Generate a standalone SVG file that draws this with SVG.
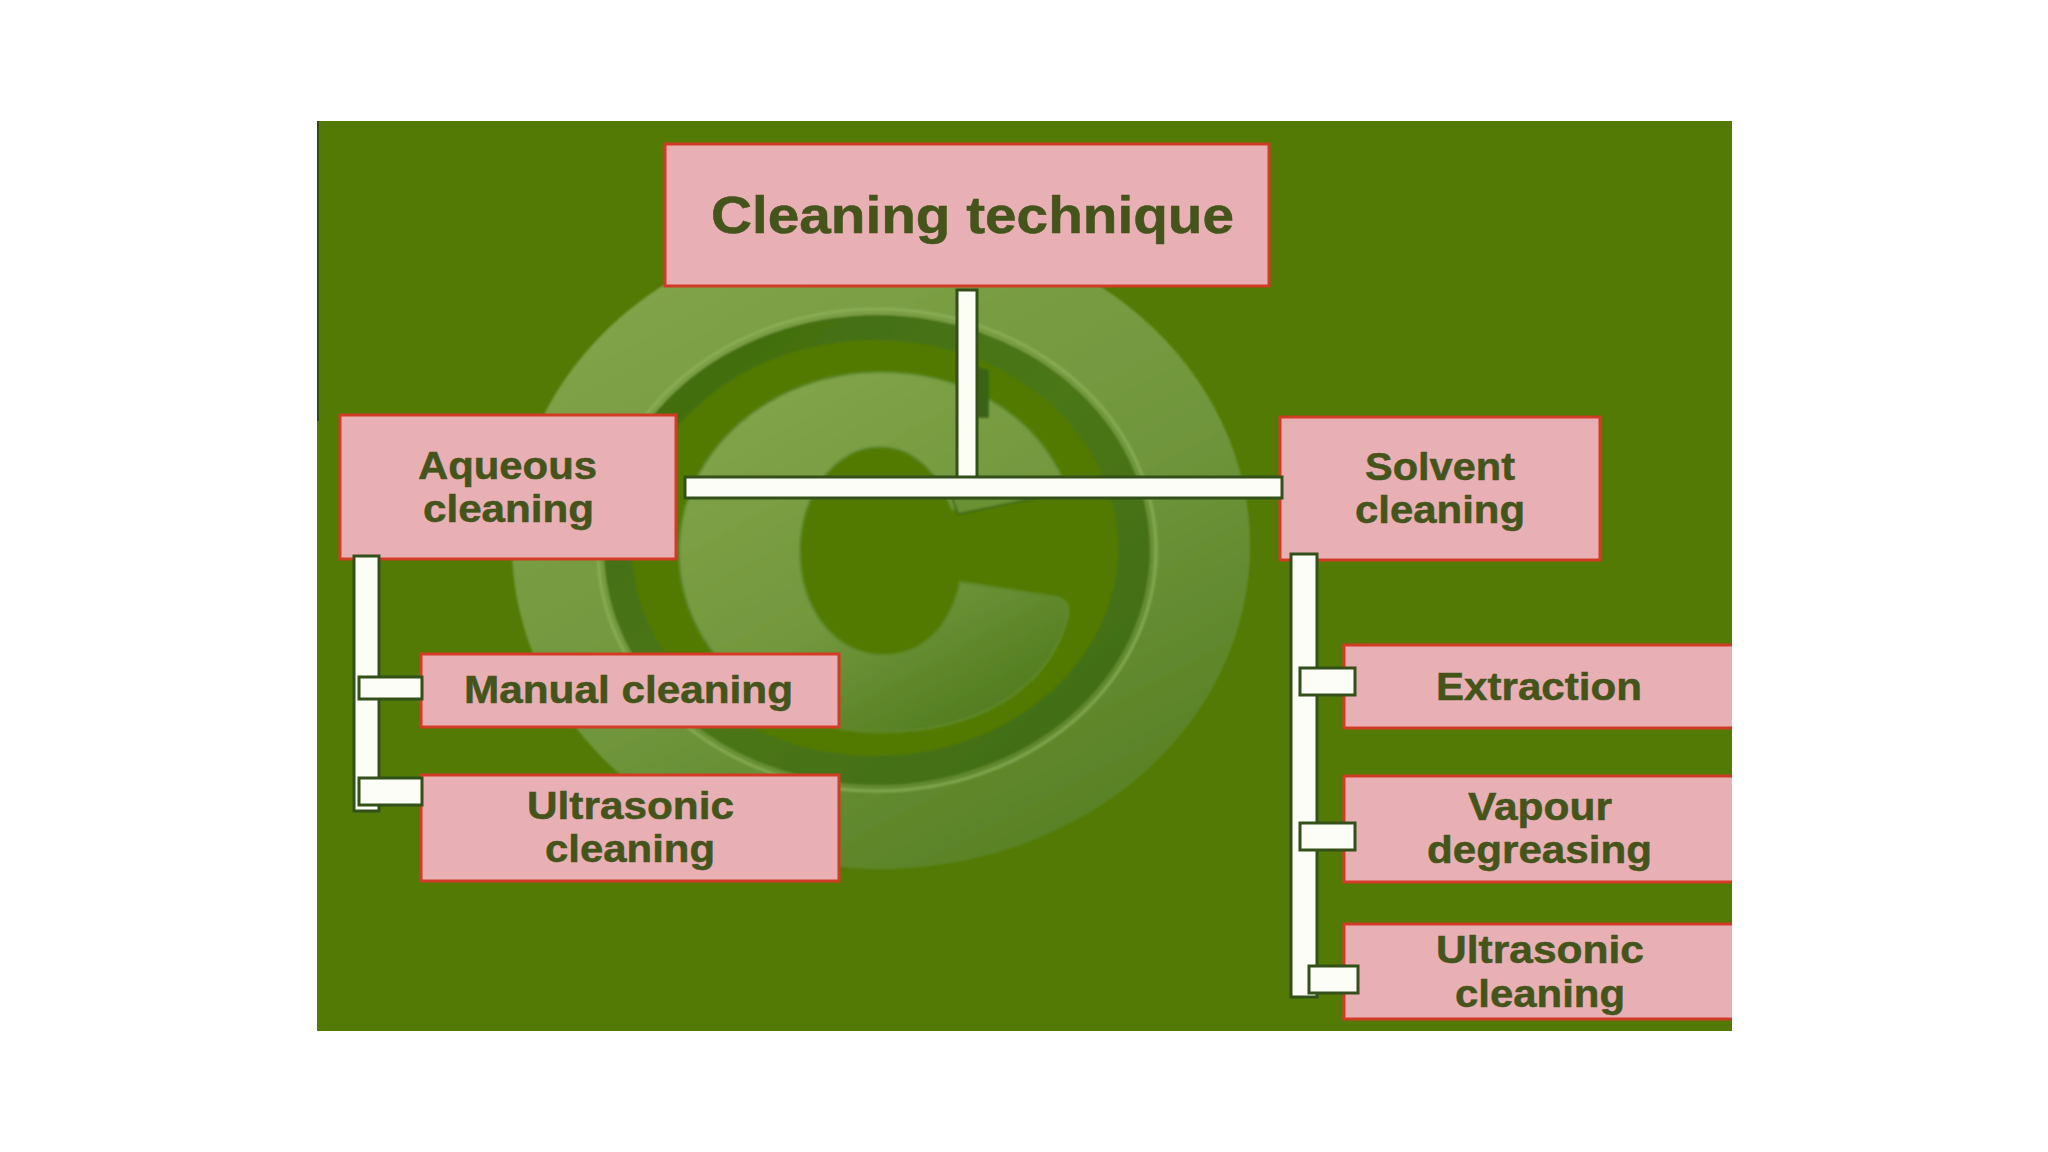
<svg xmlns="http://www.w3.org/2000/svg" width="2048" height="1152" viewBox="0 0 2048 1152">
<style>
.box{fill:#e8b0b5;stroke:#d23c26;stroke-width:3}
.bar{fill:#fcfdf6;stroke:#33501a;stroke-width:3}
text{font-family:"Liberation Sans",Arial,sans-serif;font-weight:700;fill:#44541a;stroke:#44541a;stroke-width:.5;font-size:38px}
.title{font-size:52px}
.hl{fill:none;stroke:#8fb35c;stroke-width:3;opacity:.7}
</style>
<defs>
<linearGradient id="ringG" x1="0.2" y1="0" x2="0.8" y2="1"><stop offset="0" stop-color="#83a44a"/><stop offset="0.55" stop-color="#70963c"/><stop offset="1" stop-color="#557e22"/></linearGradient>
<linearGradient id="cG" x1="0.2" y1="0" x2="0.8" y2="1"><stop offset="0" stop-color="#83a44a"/><stop offset="0.6" stop-color="#72973d"/><stop offset="1" stop-color="#4f7a1c"/></linearGradient>
<linearGradient id="darkG" x1="0" y1="0" x2="1" y2="1"><stop offset="0" stop-color="#3f6a10"/><stop offset="0.5" stop-color="#4b7714"/><stop offset="1" stop-color="#3f6a12"/></linearGradient>
<filter id="soft" x="-5%" y="-5%" width="110%" height="110%"><feGaussianBlur stdDeviation="1"/></filter>
<clipPath id="bgClip"><rect x="317" y="121" width="1415" height="910"/></clipPath>
</defs>
<rect width="2048" height="1152" fill="#fff"/>
<g id="background">
<rect x="317" y="121" width="1415" height="910" fill="#527a04"/>
<rect x="317" y="121" width="2" height="300" fill="#2f4a10"/>
<g filter="url(#soft)">
<ellipse cx="881" cy="546" rx="369" ry="323" fill="url(#ringG)"/>
<ellipse cx="877" cy="550" rx="279" ry="241" class="hl"/>
<ellipse cx="877" cy="550" rx="273" ry="235" fill="url(#darkG)"/>
<ellipse cx="875" cy="548" rx="243" ry="208" fill="#527a04"/>
<path d="M952 510L1062 477C1030 410 960 372 880 372C770 372 679 452 679 552C679 652 770 732 880 732C975 732 1050 690 1068 615Q1070 600 1055 597L960 582C950 630 920 655 885 655C835 655 800 610 800 550C800 495 835 447 880 447C915 447 940 475 952 510Z" fill="url(#cG)" stroke="#5f8a2a" stroke-width="2"/>
<path d="M977 367L989 370V418H977Z" fill="#3a6412"/>
<path d="M952 498L1037 498L958 514Z" fill="#6b9236" stroke="#3f6a12" stroke-width="2"/>
</g>
</g>
<g id="node-title"><rect class="box" x="665" y="144" width="604" height="142"/><text class="title" x="711" y="233" textLength="523" lengthAdjust="spacingAndGlyphs">Cleaning technique</text></g>
<g id="node-aqueous"><rect class="box" x="340" y="415" width="336" height="144"/><text x="418" y="479" textLength="179" lengthAdjust="spacingAndGlyphs">Aqueous</text><text x="423" y="522" textLength="171" lengthAdjust="spacingAndGlyphs">cleaning</text></g>
<g id="node-solvent"><rect class="box" x="1280" y="417" width="320" height="143"/><text x="1365" y="480" textLength="150" lengthAdjust="spacingAndGlyphs">Solvent</text><text x="1355" y="523" textLength="170" lengthAdjust="spacingAndGlyphs">cleaning</text></g>
<g id="node-manual"><rect class="box" x="421" y="654" width="418" height="73"/><text x="464" y="703" textLength="329" lengthAdjust="spacingAndGlyphs">Manual cleaning</text></g>
<g id="node-ultrasonic-left"><rect class="box" x="421" y="775" width="418" height="106"/><text x="527" y="819" textLength="207" lengthAdjust="spacingAndGlyphs">Ultrasonic</text><text x="545" y="862" textLength="170" lengthAdjust="spacingAndGlyphs">cleaning</text></g>
<g id="node-extraction" clip-path="url(#bgClip)"><rect class="box" x="1344" y="645" width="400" height="83"/><text x="1436" y="700" textLength="206" lengthAdjust="spacingAndGlyphs">Extraction</text></g>
<g id="node-vapour" clip-path="url(#bgClip)"><rect class="box" x="1344" y="776" width="400" height="106"/><text x="1468" y="820" textLength="144" lengthAdjust="spacingAndGlyphs">Vapour</text><text x="1427" y="863" textLength="225" lengthAdjust="spacingAndGlyphs">degreasing</text></g>
<g id="node-ultrasonic-right" clip-path="url(#bgClip)"><rect class="box" x="1344" y="924" width="400" height="95"/><text x="1436" y="963" textLength="208" lengthAdjust="spacingAndGlyphs">Ultrasonic</text><text x="1455" y="1007" textLength="170" lengthAdjust="spacingAndGlyphs">cleaning</text></g>
<g id="connectors">
<rect class="bar" x="957" y="290" width="20" height="188"/>
<rect class="bar" x="685" y="477" width="597" height="21"/>
<rect class="bar" x="354" y="556" width="25" height="255"/>
<rect class="bar" x="359" y="677" width="63" height="22"/>
<rect class="bar" x="359" y="778" width="63" height="27"/>
<rect class="bar" x="1291" y="554" width="26" height="443"/>
<rect class="bar" x="1300" y="668" width="55" height="27"/>
<rect class="bar" x="1300" y="823" width="55" height="27"/>
<rect class="bar" x="1309" y="966" width="49" height="27"/>
</g>
</svg>
